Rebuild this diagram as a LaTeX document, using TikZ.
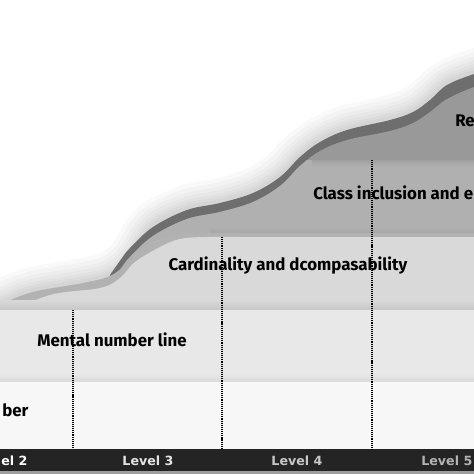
\documentclass[tikz,border=0pt]{standalone}
\usepackage{fontspec}
\setmainfont{Fira Sans}
\newfontfamily\barfont{DejaVu Sans}
\newcommand\stairline{plot[smooth, tension=0.6] coordinates {(-30,321) (0,304) (33,291) (83,282) (112,274) (132,257) (153,226) (187,209) (220,202) (253,192) (280,176) (300,156) (320,141) (347,129) (390,119) (413,111) (430,99) (447,84) (474,73) (500,65)}}
\newcommand\rimline{plot[smooth, tension=0.6] coordinates {(110,275) (122,258) (130,248) (153,227) (187,210) (220,203) (253,193) (280,177) (300,157) (320,142) (347,130) (390,120) (413,112) (430,100) (447,85) (474,74) (500,66)}}
\newcommand\bodyline{plot[smooth, tension=0.6] coordinates {(110,284) (122,267) (130,257) (153,236) (187,219) (220,212) (253,202) (280,186) (300,166) (320,151) (347,140) (390,131) (413,123) (430,112) (447,99) (474,87) (500,79)}}

\begin{document}
\begin{tikzpicture}[x=0.025cm, y=-0.025cm,
    stagetext/.style = {font=\bfseries\fontsize{12}{14}\selectfont, text=black, inner sep=0pt},
    lvltext/.style = {font=\barfont\bfseries\fontsize{9}{10}\selectfont, inner sep=0pt},
    divider/.style = {black, line width=0.8pt, dash pattern=on 0.8pt off 0.7pt},
    halo/.style = {black, opacity=0.022, line cap=round, line join=round}
]
  \useasboundingbox (0,0) rectangle (474,474);
  \clip (0,0) rectangle (474,474);
  \fill[white] (0,0) rectangle (474,474);

  % soft shadow round the outline
  \draw[halo, line width=34] \stairline;
  \draw[halo, line width=28] \stairline;
  \draw[halo, line width=22] \stairline;
  \draw[halo, line width=17] \stairline;
  \draw[halo, line width=12] \stairline;
  \draw[halo, line width=8] \stairline;
  \draw[halo, line width=4] \stairline;

  % stages 4 and 5: dark rim, then bodies
  \fill[black!57] \rimline -- (500,480) -- (110,480) -- cycle;
  \fill[black!40] \bodyline -- (500,480) -- (110,480) -- cycle;
  \begin{scope}
    \clip (0,160) rectangle (474,474);
    \fill[black!31] \bodyline -- (500,480) -- (110,480) -- cycle;
  \end{scope}
  \shade[top color=black!37, bottom color=black!31] (312,160) rectangle (474,166);
  \shade[top color=black!31, bottom color=black!38] (210,227) rectangle (474,237);

  % stage 3
  \fill[black!30] plot[smooth, tension=0.6] coordinates {(-30,322) (0,305) (33,292) (83,283) (112,275) (132,258) (150,243) (172,235) (200,233) (240,233)} -- (500,233) -- (500,480) -- (-30,480) -- cycle;
  \fill[black!15] plot[smooth, tension=0.6] coordinates {(-30,330) (0,316) (50,295) (100,288) (120,278) (135,262) (160,247) (180,239) (205,237) (240,237)} -- (500,237) -- (500,480) -- (-30,480) -- cycle;
  \shade[top color=black!15, bottom color=black!22] (0,300) rectangle (474,310);

  % stage 2 and stage 1
  \fill[black!9] (0,310) rectangle (474,382);
  \shade[top color=black!9, bottom color=black!15] (0,374) rectangle (474,382);
  \fill[black!3] (0,382) rectangle (474,449);

  % level bar
  \fill[black!86] (0,449) rectangle (474,471);
  \fill[black!38] (0,471) rectangle (474,474);

  % dividers
  \coordinate (dvonetop) at (73,310);
  \coordinate (dvonebot) at (73,449);
  \coordinate (dvtwotop) at (222,237);
  \coordinate (dvtwobot) at (222,449);
  \coordinate (dvthreetop) at (372,160);
  \coordinate (dvthreebot) at (372,449);
  \draw[divider] (dvonetop) -- (dvonebot);
  \draw[divider] (dvtwotop) -- (dvtwobot);
  \draw[divider] (dvthreetop) -- (dvthreebot);

  % stage labels
  \node[stagetext, anchor=west] (numtext)  at (2,410)   {ber};
  \node[stagetext]              (mental)   at (112,340) {Mental number line};
  \node[stagetext]              (cardinal) at (288,266) {Cardinality and dcompasability};
  \node[stagetext, anchor=west] (classinc) at (313,193) {Class inclusion and e};
  \node[stagetext, anchor=west] (relat)    at (455,121) {Re};

  % level labels
  \node[lvltext, anchor=west, text=white]    (lvltwo)   at (1,461)   {el 2};
  \node[lvltext, text=black!10]              (lvlthree) at (148,461) {Level 3};
  \node[lvltext, text=black!22]              (lvlfour)  at (297,461) {Level 4};
  \node[lvltext, anchor=west, text=black!30] (lvlfive)  at (421,461) {Level 5};
\end{tikzpicture}
\end{document}
